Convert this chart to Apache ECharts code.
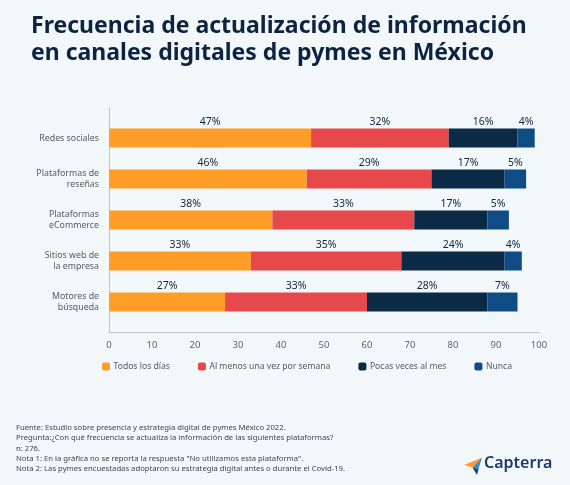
<!DOCTYPE html>
<html>
<head>
<meta charset="utf-8">
<script src="https://cdn.jsdelivr.net/npm/echarts@6/dist/echarts.min.js"></script>
<style>
html,body{margin:0;padding:0;background:#F2F7F9;}
#chart{width:570px;height:485px;}
</style>
</head>
<body>
<div id="chart"></div>
<script>
const categories = ['Redes sociales', 'Plataformas de\nreseñas', 'Plataformas\neCommerce', 'Sitios web de\nla empresa', 'Motores de\nbúsqueda'];
const seriesNames = ['Todos los días', 'Al menos una vez por semana', 'Pocas veces al mes', 'Nunca'];
const todosLosDias = [47, 46, 38, 33, 27];
const alMenosSemana = [32, 29, 33, 35, 33];
const pocasVeces = [16, 17, 17, 24, 28];
const nunca = [4, 5, 5, 4, 7];
const colors = ['#FF9D28', '#E6484B', '#0B2A46', '#0F4C86'];
const titleText = 'Frecuencia de actualización de información\nen canales digitales de pymes en México';
const footerLines = [
  'Fuente: Estudio sobre presencia y estrategia digital de pymes México 2022.',
  'Pregunta:¿Con qué frecuencia se actualiza la información de las siguientes plataformas?',
  'n: 276.',
  'Nota 1: En la gráfica no se reporta la respuesta "No utilizamos esta plataforma".',
  'Nota 2: Las pymes encuestadas adoptaron su estrategia digital antes o durante el Covid-19.'
];

const FONT = 'Noto Sans';
const chart = echarts.init(document.getElementById('chart'), null, {renderer: 'canvas'});
const values = [todosLosDias, alMenosSemana, pocasVeces, nunca];

const series = values.map((arr, i) => ({
  name: seriesNames[i],
  type: 'bar',
  stack: 'total',
  barWidth: 19,
  data: arr,
  itemStyle: {color: colors[i]},
  label: {
    show: true,
    position: 'top',
    distance: 1,
    formatter: '{c}%',
    color: '#14233D',
    fontSize: 10.5,
    fontFamily: FONT
  }
}));

chart.setOption({
  backgroundColor: '#F2F7F9',
  animation: false,
  title: {
    text: titleText,
    left: 26,
    top: 8,
    textStyle: {
      fontFamily: FONT,
      fontWeight: 'bold',
      fontSize: 23,
      lineHeight: 27,
      color: '#0E2340'
    }
  },
  legend: {
    data: seriesNames,
    left: 97,
    top: 357,
    itemWidth: 8,
    itemHeight: 8,
    itemGap: 28,
    icon: 'roundRect',
    textStyle: {fontFamily: FONT, fontSize: 8.6, color: '#555B63', padding: [0, 0, 0, -1.5]}
  },
  grid: {left: 109, right: 31, top: 117.5, height: 205, containLabel: false},
  xAxis: {
    type: 'value',
    min: 0,
    max: 100,
    interval: 10,
    offset: 10,
    axisLine: {show: true, lineStyle: {color: '#BFC4C8', width: 1}},
    axisTick: {show: false},
    splitLine: {show: false},
    axisLabel: {fontFamily: FONT, fontSize: 9.5, color: '#5E646B', margin: 8}
  },
  yAxis: {
    type: 'category',
    data: categories,
    inverse: true,
    axisLine: {show: false},
    axisTick: {show: false},
    axisLabel: {fontFamily: FONT, fontSize: 8.8, lineHeight: 10.5, color: '#555B63', margin: 10, align: 'right'}
  },
  graphic: [
    {type: 'line', shape: {x1: 109.5, y1: 107, x2: 109.5, y2: 332.5}, style: {stroke: '#BFC4C8', lineWidth: 1}, silent: true},
    {type: 'text', left: 16, top: 423, style: {text: footerLines.join('\n'), fontFamily: FONT, fontSize: 7.7, lineHeight: 10.2, fill: '#3E4650'}},
    {type: 'polygon', shape: {points: [[464, 465], [482, 457.5], [472.5, 467.5]]}, style: {fill: '#FF9D28'}},
    {type: 'polygon', shape: {points: [[472.5, 467.5], [482, 457.5], [478.5, 469]]}, style: {fill: '#2A8DD8'}},
    {type: 'polygon', shape: {points: [[472.5, 467.5], [478.5, 469], [477, 475]]}, style: {fill: '#1B3A6B'}},
    {type: 'text', left: 484, top: 455, style: {text: 'Capterra', fontFamily: FONT, fontSize: 16, fontWeight: 600, fill: '#1B3A6B'}}
  ],
  series: series
});
</script>
</body>
</html>
